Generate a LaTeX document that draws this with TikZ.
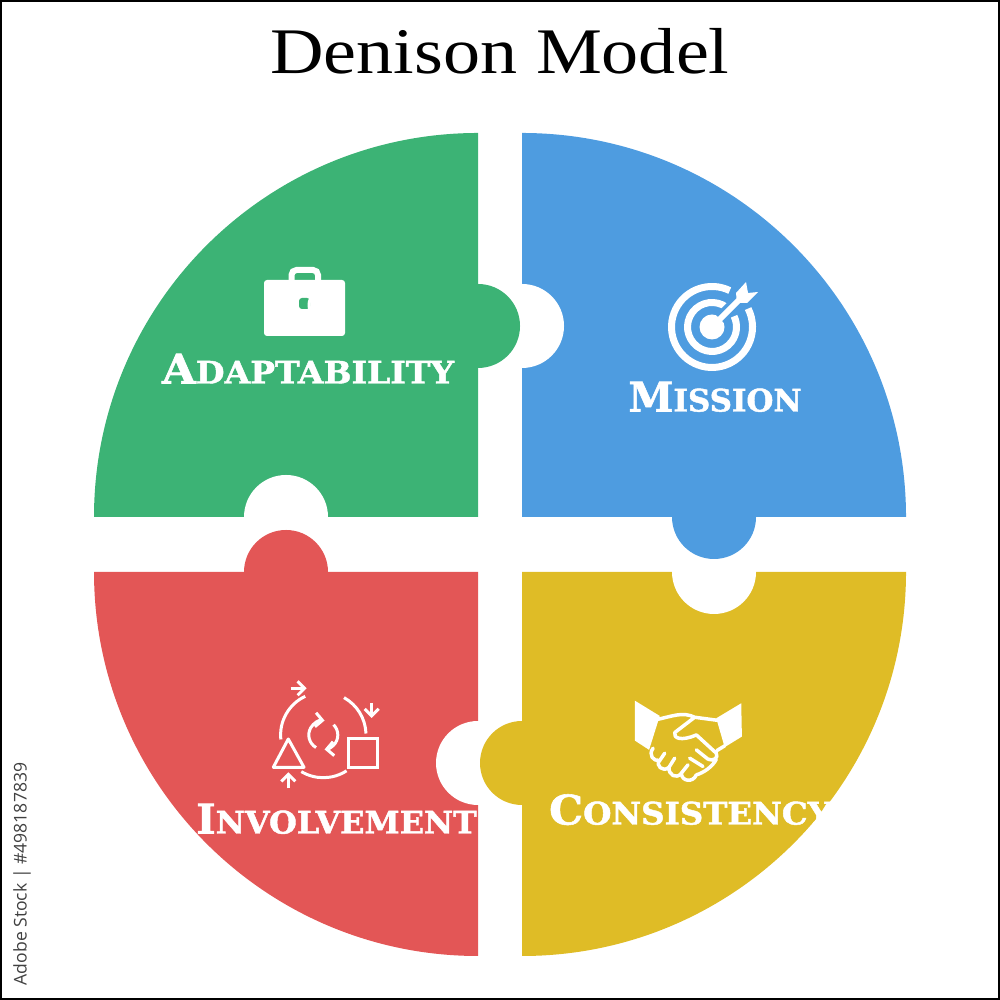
\documentclass[tikz,border=0pt]{standalone}
\usepackage{fontspec}
\usepackage{xcolor}
\usetikzlibrary{positioning,arrows.meta}
\setmainfont{Liberation Serif}
\newfontfamily\titlefont[FakeStretch=1.14]{Liberation Serif}
\newfontfamily\capsfont[BoldFeatures={FakeBold=1.4}]{DejaVu Serif}
\newfontfamily\stockfont{Open Sans}
\definecolor{adaptgreen}{RGB}{60,179,117}
\definecolor{missionblue}{RGB}{78,156,224}
\definecolor{involvered}{RGB}{227,86,86}
\definecolor{consistyellow}{RGB}{223,188,38}
\newcommand{\bigsmall}[2]{{\fontsize{11.6}{12}\selectfont #1}{\fontsize{8.8}{12}\selectfont #2}}
\tikzset{
	quadlabel/.style={text=white,font=\capsfont\bfseries,inner sep=0pt,anchor=base,transform shape},
	iconline/.style={draw=white,line width=0.03cm},
	iconarrow/.style={-{Straight Barb[length=0.07cm,width=0.14cm]},white,line width=0.03cm},
}

\begin{document}
\begin{tikzpicture}
	\useasboundingbox (0,0) rectangle (10,10);
	\draw[line width=0.02cm] (0.01,0.01) rectangle (9.99,9.99);

	\node[inner sep=0pt,anchor=base,font=\titlefont\fontsize{18.5}{24}\selectfont] (title) at (5,9.26) {Denison Model};

	% the four pieces
	\fill[adaptgreen] (4.78,4.83) -- (0.94,4.83) arc[start angle=180,end angle=90,radius=3.84] -- cycle;
	\fill[missionblue] (5.22,4.83) -- (5.22,8.67) arc[start angle=90,end angle=0,radius=3.84] -- cycle;
	\fill[involvered] (4.78,4.28) -- (0.94,4.28) arc[start angle=180,end angle=270,radius=3.84] -- cycle;
	\fill[consistyellow] (5.22,4.28) -- (9.06,4.28) arc[start angle=0,end angle=-90,radius=3.84] -- cycle;

	% notches, then tabs
	\foreach \x/\y in {5.22/6.74, 2.86/4.83, 7.14/4.28, 4.78/2.37}
		\fill[white] (\x,\y) circle (0.42);
	\fill[adaptgreen] (4.78,6.74) circle (0.42);
	\fill[involvered] (2.86,4.28) circle (0.42);
	\fill[missionblue] (7.14,4.83) circle (0.42);
	\fill[consistyellow] (5.22,2.37) circle (0.42);

	\node[quadlabel,xscale=1.07] (adaptability) at (3.08,6.165) {\bigsmall{A}{DAPTABILITY}};
	\node[quadlabel] (mission) at (7.15,5.885) {\bigsmall{M}{ISSION}};
	\node[quadlabel,xscale=1.03] (involvement) at (3.365,1.665) {\bigsmall{I}{NVOLVEMENT}};
	\node[quadlabel,xscale=1.05] (consistency) at (6.90,1.755) {\bigsmall{C}{ONSISTENCY}};

	% briefcase
	\draw[white,line width=0.06cm,rounded corners=0.05cm] (2.915,7.2) -- (2.915,7.3) -- (3.18,7.3) -- (3.18,7.2);
	\fill[white,rounded corners=0.03cm] (2.64,6.64) rectangle (3.45,7.2);
	\fill[adaptgreen,rounded corners=0.03cm] (2.99,6.91) rectangle (3.10,7.02);

	% target
	\draw[white,line width=0.07cm] (7.12,6.73) ++(64:0.405) arc[start angle=64,end angle=387,radius=0.405];
	\draw[white,line width=0.07cm] (7.12,6.73) ++(53:0.245) arc[start angle=53,end angle=386,radius=0.245];
	\fill[white] (7.12,6.73) circle (0.125);
	\draw[missionblue,line width=0.13cm] (7.2,6.81) -- (7.42,7.03);
	\draw[white,line width=0.06cm] (7.12,6.73) -- (7.44,7.05);
	\fill[white] (7.37,6.97) -- (7.36,7.07) -- (7.46,7.18) -- (7.48,7.07) -- (7.58,7.08) -- (7.47,6.97) -- cycle;

	% cycle of shapes
	\draw[iconline] (3.237,6.95) circle (0.147);
	\foreach \a/\b in {115/186, 61/2, 239/303}
		\draw[iconline] (3.233,2.65) ++(\a:0.427) arc[start angle=\a,end angle=\b,radius=0.427];
	\draw[iconline,line join=round] (2.883,2.61) -- (2.733,2.327) -- (3.04,2.327) -- cycle;
	\draw[iconline] (3.483,2.327) rectangle (3.773,2.61);
	\coordinate (arrowa) at (2.907,3.117);
	\coordinate (arrowb) at (3.067,3.117);
	\coordinate (arrowc) at (3.717,2.97);
	\coordinate (arrowd) at (3.717,2.82);
	\coordinate (arrowe) at (2.883,2.117);
	\coordinate (arrowf) at (2.883,2.277);
	\draw[iconarrow] (arrowa) -- (arrowb);
	\draw[iconarrow] (arrowc) -- (arrowd);
	\draw[iconarrow] (arrowe) -- (arrowf);
	\draw[iconarrow] (3.233,2.65) ++(240:0.145) arc[start angle=240,end angle=85,radius=0.145];
	\draw[iconarrow] (3.233,2.65) ++(45:0.145) arc[start angle=45,end angle=-85,radius=0.145];

	% handshake, in the scale of a 3x crop
	\begin{scope}[shift={(5.4,3.1)},x=0.00333cm,y=-0.00333cm]
		\fill[white] (285,32) -- (360,78) -- (328,180) -- (285,152) -- cycle;
		\fill[white] (605,40) -- (530,85) -- (555,172) -- (607,140) -- cycle;
		\draw[white,line width=0.035cm,line join=round,line cap=round]
			(355,88) .. controls (400,78) and (430,65) .. (465,82)
			-- (405,128) .. controls (400,145) and (425,155) .. (470,135)
			-- (530,190) .. controls (538,205) and (520,215) .. (505,208)
			(465,82) -- (540,92)
			(555,168) -- (532,182)
			(340,175) .. controls (325,195) and (340,215) .. (360,212)
			.. controls (345,225) and (370,250) .. (388,232)
			.. controls (385,255) and (410,270) .. (425,250)
			.. controls (425,275) and (460,280) .. (470,255)
			(360,212) -- (375,190)
			(388,232) -- (405,205)
			(425,250) -- (445,225)
			(470,255) .. controls (490,250) and (520,230) .. (530,208)
			(450,205) -- (490,230)
			(470,180) -- (505,208);
	\end{scope}

	\node[rotate=90,inner sep=0pt,text=black!75,font=\stockfont\fontsize{5.0}{6}\selectfont] (stockid) at (0.22,1.26) {Adobe Stock | \#498187839};
\end{tikzpicture}
\end{document}
